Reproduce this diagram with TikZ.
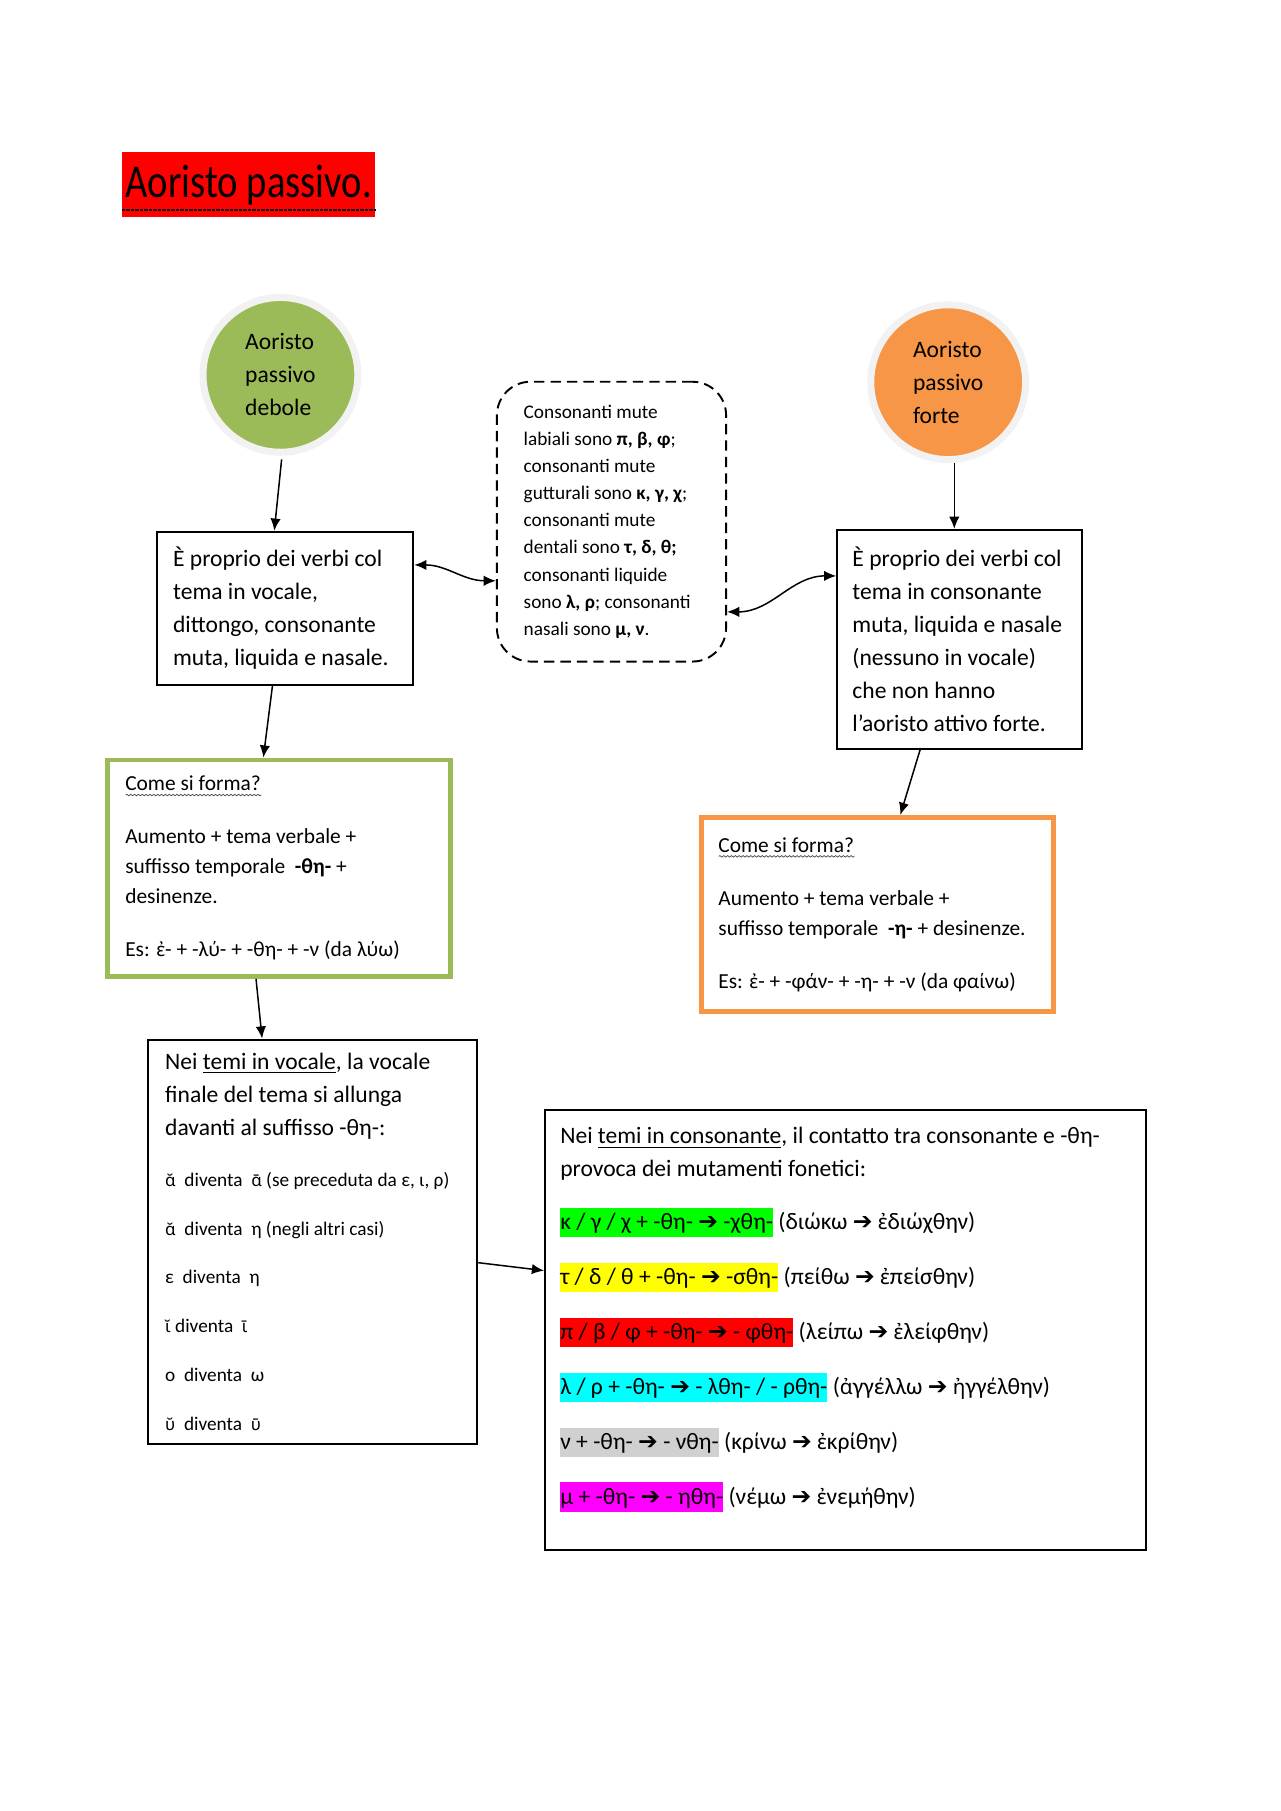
\documentclass[tikz,border=0pt]{standalone}
\usepackage{fontspec}
\setmainfont{Carlito}
\newfontfamily\polyfont{Noto Sans}[Scale=0.88]
\newfontfamily\symfont{DejaVu Sans}
\usepackage{xcolor}
\usepackage{tikz}
\usetikzlibrary{positioning,calc,arrows.meta,decorations.pathmorphing}

\definecolor{olivegreen}{HTML}{9BBB59}
\definecolor{softorange}{HTML}{F79646}
\definecolor{ringgray}{HTML}{F2F2F2}
\definecolor{hlgreen}{HTML}{00FF00}
\definecolor{hlyellow}{HTML}{FFFF00}
\definecolor{hlred}{HTML}{FF0000}
\definecolor{hlcyan}{HTML}{00FFFF}
\definecolor{hlgray}{HTML}{D0D0D0}
\definecolor{hlmagenta}{HTML}{FF00FF}

\newcommand{\poly}[1]{{\polyfont #1}}
\newcommand{\toarrow}{{\symfont ➔}}
\newcommand{\firstline}[2]{\makebox[#1][l]{#2}}
\newcommand{\smallrow}{\fontsize{9}{15.35}\selectfont}
\newcommand{\hilite}[2]{{\setlength{\fboxsep}{0pt}\colorbox{#1}{\rule[-3.4pt]{0pt}{13.7pt}#2}}}
\newlength\sqlen
\newcommand{\squiggle}[1]{\settowidth{\sqlen}{#1}\rlap{\smash{\tikz[baseline=0pt]\draw[black!70, line width=0.35pt,
    decorate, decoration={snake, amplitude=0.35pt, segment length=1.8pt}] (0,-1.9pt) -- (\sqlen,-1.9pt);}}#1}

\begin{document}
\begin{tikzpicture}[
    node distance=10mm and 12mm,
    stage/.style={circle, fill=#1, draw=ringgray, line width=1.15mm, minimum size=25.4mm, inner sep=0pt, align=left, font=\fontsize{11}{15.35}\selectfont},
    box/.style={draw, line width=0.9pt, align=left, inner xsep=2.6mm, inner ysep=0pt, font=\fontsize{11}{15.35}\selectfont},
    formbox/.style={draw=#1, line width=0.8mm, align=left, inner xsep=2.8mm, inner ysep=0pt, font=\fontsize{10}{14}\selectfont},
    notebox/.style={draw, line width=0.9pt, dash pattern=on 1.7mm off 1mm, rounded corners=5.5mm, align=left, inner xsep=4.4mm, inner ysep=0pt, font=\fontsize{9}{12.65}\selectfont},
    arrow/.style={-{Latex[length=2mm,width=1.7mm]}, line width=0.7pt},
    dblarrow/.style={{Latex[length=2mm,width=1.7mm]}-{Latex[length=2mm,width=1.7mm]}, line width=0.7pt}
]
\useasboundingbox (0,0) rectangle (210mm,-297.1mm);

\node[fill=red, minimum width=41.5mm, minimum height=10.7mm, inner sep=0pt] (title) at (40.8mm,-30.3mm)
    {\scalebox{0.82}[1]{\fontsize{22}{22}\selectfont Aoristo passivo.}};
\draw[line width=1.2pt, dash pattern=on 1.6pt off 0.5pt] ([yshift=1.3mm]title.south west) -- ([yshift=1.3mm]title.south east);

\node[stage=olivegreen, below=12.5mm of title, xshift=5.2mm] (deb) {Aoristo\\passivo\\debole};
\node[stage=softorange, right=83.0mm of deb, yshift=-1.2mm] (forte) {Aoristo\\passivo\\forte};

\node[box, minimum width=42.0mm, minimum height=25.1mm, below=12.3mm of deb, xshift=0.8mm] (debdesc)
    {\firstline{36.8mm}{È proprio dei verbi col}\\tema in vocale,\\dittongo, consonante\\muta, liquida e nasale.};
\node[box, inner xsep=2.5mm, minimum width=40.2mm, minimum height=35.9mm, below=10.8mm of forte, xshift=1.9mm] (fortedesc)
    {\firstline{35.2mm}{È proprio dei verbi col}\\tema in consonante\\muta, liquida e nasale\\(nessuno in vocale)\\che non hanno\\l’aoristo attivo forte.};
\node[notebox, minimum width=37.6mm, minimum height=45.9mm, right=13.4mm of debdesc, yshift=14.2mm] (consnote)
    {\firstline{28.8mm}{Consonanti mute}\\labiali sono \textbf{π, β, φ};\\consonanti mute\\gutturali sono \textbf{κ, γ, χ};\\consonanti mute\\dentali sono \textbf{τ, δ, θ;}\\consonanti liquide\\sono \textbf{λ, ρ}; consonanti\\nasali sono \textbf{μ, ν}.};

\node[formbox=olivegreen, minimum width=56.3mm, minimum height=35.5mm, below=11.8mm of debdesc, xshift=-1.0mm] (debform)
    {\firstline{50.5mm}{\squiggle{Come si forma?}}\\[10.7pt]Aumento + tema verbale +\\suffisso temporale \ \textbf{-θη-} +\\desinenze.\\[10.7pt]Es: \poly{ἐ}- + -λύ- + -θη- + -ν (da λύω)};
\node[formbox=softorange, inner xsep=2.7mm, minimum width=57.7mm, minimum height=31.9mm, below=10.7mm of fortedesc, xshift=-13.45mm] (forteform)
    {\firstline{52.3mm}{\squiggle{Come si forma?}}\\[10.7pt]Aumento + tema verbale +\\suffisso temporale \ \textbf{-η-} + desinenze.\\[10.7pt]Es: \poly{ἐ}- + -φάν- + -η- + -ν (da φαίνω)};

\node[box, inner xsep=2.8mm, minimum width=54.0mm, minimum height=66.4mm, below=9.8mm of debform, xshift=5.5mm] (vocali)
    {\firstline{48.4mm}{Nei \underline{temi in vocale}, la vocale}\\finale del tema si allunga\\davanti al suffisso -θη-:\\[8.4pt]
     \smallrow \poly{ᾰ}\ \ diventa\ \ \poly{ᾱ} (se preceduta da ε, ι, ρ)\\[7.45pt]
     \smallrow \poly{ᾰ}\ \ diventa\ \ η (negli altri casi)\\[7.45pt]
     \smallrow ε\ \ diventa\ \ η\\[7.45pt]
     \smallrow \poly{ῐ} diventa\ \ \poly{ῑ}\\[7.45pt]
     \smallrow ο\ \ diventa\ \ ω\\[7.45pt]
     \smallrow \poly{ῠ}\ \ diventa\ \ \poly{ῡ}};
\node[box, inner xsep=2.5mm, minimum width=98.6mm, minimum height=72.2mm, right=10.8mm of vocali, yshift=-14.5mm] (consonanti)
    {\firstline{93.6mm}{Nei \underline{temi in consonante}, il contatto tra consonante e -θη-}\\provoca dei mutamenti fonetici:\\[9.4pt]
     \hilite{hlgreen}{κ / γ / χ + -θη- \toarrow{} -χθη-} (διώκω \toarrow{} \poly{ἐ}διώχθην)\\[10.3pt]
     \hilite{hlyellow}{τ / δ / θ + -θη- \toarrow{} -σθη-} (πείθω \toarrow{} \poly{ἐ}πείσθην)\\[10.3pt]
     \hilite{hlred}{π / β / φ + -θη- \toarrow{} - φθη-} (λείπω \toarrow{} \poly{ἐ}λείφθην)\\[10.3pt]
     \hilite{hlcyan}{λ / ρ + -θη- \toarrow{} - λθη- / - ρθη-} (\poly{ἀ}γγέλλω \toarrow{} \poly{ἠ}γγέλθην)\\[10.3pt]
     \hilite{hlgray}{ν + -θη- \toarrow{} - νθη-} (κρίνω \toarrow{} \poly{ἐ}κρίθην)\\[10.3pt]
     \hilite{hlmagenta}{μ + -θη- \toarrow{} - ηθη-} (νέμω \toarrow{} \poly{ἐ}νεμήθην)\\[-2pt]\mbox{}};

% weak aorist column
\draw[arrow] ([xshift=0.2mm,yshift=-0.6mm]deb.south) -- ([xshift=-1.8mm]debdesc.north);
\draw[arrow] ([xshift=-2.1mm]debdesc.south) -- ([xshift=-2.6mm]debform.north);
\draw[arrow] ([xshift=-3.8mm]debform.south) -- ([xshift=-8.3mm]vocali.north);

% strong aorist column
\draw[arrow] ([xshift=-0.9mm]fortedesc.north |- forte.south) -- ([xshift=-0.9mm]fortedesc.north);
\draw[arrow] ([xshift=-6.5mm]fortedesc.south) -- ([xshift=3.7mm]forteform.north);

% links to the consonant note
\draw[dblarrow] ([yshift=7.1mm]debdesc.east) to[out=0, in=180] ([yshift=-9.7mm]consnote.west);
\draw[dblarrow] ([yshift=-14.8mm]consnote.east) to[out=0, in=180] ([yshift=10.4mm]fortedesc.west);

\draw[arrow] ([yshift=-3.4mm]vocali.east) -- ([yshift=9.8mm]consonanti.west);
\end{tikzpicture}
\end{document}
